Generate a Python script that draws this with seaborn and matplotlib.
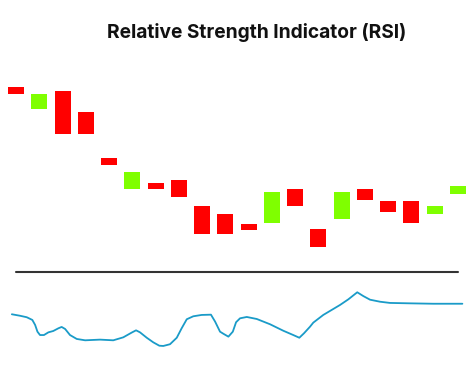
import numpy as np
import pandas as pd
import seaborn as sns
import matplotlib.pyplot as plt
from matplotlib.lines import Line2D

sns.set_style("white")
plt.rcParams["font.family"] = ["Inter", "DejaVu Sans"]

# candle data (open / close)
opens = [98.25, 92.75, 97.25, 92.0, 80.5, 72.75, 74.25, 75.0, 68.5, 66.5,
         64.0, 64.25, 72.75, 62.75, 65.25, 72.75, 69.75, 69.75, 66.5, 71.5]
closes = [96.5, 96.5, 86.5, 86.5, 78.75, 77.0, 72.75, 70.75, 61.5, 61.5,
          62.5, 72.0, 68.5, 58.25, 72.0, 70.0, 67.0, 64.25, 68.5, 73.5]

# RSI line (time in candle units)
rsi_t = [-0.18, 0.17, 0.46, 0.70, 0.82, 0.92, 1.03, 1.20, 1.39, 1.60,
         1.82, 1.96, 2.11, 2.32, 2.61, 2.97, 3.61, 4.18, 4.61, 4.97,
         5.16, 5.33, 5.62, 5.90, 6.16, 6.33, 6.62, 6.91, 7.12, 7.34,
         7.62, 7.98, 8.38, 8.56, 8.77, 8.91, 9.13, 9.32, 9.46, 9.63,
         9.92, 10.35, 10.92, 11.49, 11.92, 12.18, 12.38, 12.64, 12.78, 13.21,
         13.57, 13.93, 14.29, 14.67, 14.93, 15.22, 15.65, 16.08, 16.94, 17.94,
         19.19]
rsi_v = [53.5, 52.4, 51.3, 49.3, 45.6, 40.6, 38.1, 38.1, 40.1, 41.1,
         43.1, 44.1, 42.6, 38.1, 35.2, 34.2, 34.7, 34.2, 36.4, 39.9,
         41.6, 40.1, 36.1, 32.7, 30.2, 30.0, 31.3, 36.1, 43.1, 49.8,
         52.0, 53.0, 53.2, 48.0, 40.6, 39.1, 36.9, 40.6, 47.6, 50.5,
         51.5, 50.0, 46.1, 41.3, 38.1, 36.1, 39.4, 44.3, 47.3, 53.0,
         56.7, 60.4, 64.6, 69.8, 67.0, 64.3, 62.8, 61.9, 61.6, 61.3,
         61.3]

df = pd.DataFrame({"i": np.arange(len(opens)), "open": opens, "close": closes})
df["low"] = df[["open", "close"]].min(axis=1)
df["height"] = (df["close"] - df["open"]).abs()
df["color"] = np.where(df["close"] >= df["open"], "#7fff00", "#ff0000")

fig = plt.figure(figsize=(4.74, 3.68), dpi=100)

# candles
ax1 = fig.add_axes([0, 118 / 368, 1, 170 / 368])
ax1.bar(df["i"], df["height"], bottom=df["low"], width=0.69,
        color=df["color"], linewidth=0)
ax1.set_xlim(-0.69, 19.69)
ax1.set_ylim(57.5, 100)
ax1.axis("off")

# rsi
ax2 = fig.add_axes([0, 8 / 368, 1, 80 / 368])
sns.lineplot(x=rsi_t, y=rsi_v, ax=ax2, color="#1a9bc8", linewidth=1.3,
             solid_joinstyle="round", solid_capstyle="round")
ax2.set_xlim(-0.69, 19.69)
ax2.set_ylim(19.6, 78.9)
ax2.axis("off")

# separator
fig.add_artist(Line2D([16 / 474, 458 / 474], [96 / 368, 96 / 368],
                      color="#333333", linewidth=1.5))

fig.text(257 / 474, 1 - 33 / 368, "Relative Strength Indicator (RSI)",
         ha="center", va="center", fontsize=13.8, fontweight="bold", color="#111111")

fig.savefig("out.png", dpi=100)
